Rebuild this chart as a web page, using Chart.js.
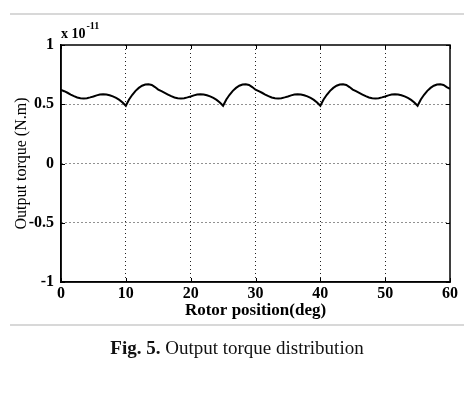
<!DOCTYPE html>
<html>
<head>
<meta charset="utf-8">
<script src="https://cdn.jsdelivr.net/npm/chart.js@4"></script>
<style>
html,body{margin:0;padding:0;background:#fff;}
canvas{display:block;}
</style>
</head>
<body>
<canvas id="c" width="474" height="398"></canvas>
<script>
// Rotor position (deg)
const rotorPosition = [
  0,0.5,1,1.5,2,2.5,3,3.5,4,4.5,5,5.5,6,6.5,7,7.5,8,8.5,9,9.5,
  10,10.5,11,11.5,12,12.5,13,13.5,14,14.5,15,15.5,16,16.5,17,17.5,18,18.5,19,19.5,
  20,20.5,21,21.5,22,22.5,23,23.5,24,24.5,25,25.5,26,26.5,27,27.5,28,28.5,29,29.5,
  30,30.5,31,31.5,32,32.5,33,33.5,34,34.5,35,35.5,36,36.5,37,37.5,38,38.5,39,39.5,
  40,40.5,41,41.5,42,42.5,43,43.5,44,44.5,45,45.5,46,46.5,47,47.5,48,48.5,49,49.5,
  50,50.5,51,51.5,52,52.5,53,53.5,54,54.5,55,55.5,56,56.5,57,57.5,58,58.5,59,59.5,60
];
// Output torque (x 1e-11 N.m)
const outputTorque = [
  0.622,0.610,0.597,0.582,0.568,0.557,0.550,0.548,0.551,0.558,0.566,0.575,0.582,0.585,0.583,0.576,0.566,0.553,0.537,0.515,
  0.487,0.540,0.580,0.613,0.638,0.656,0.667,0.669,0.663,0.645,0.624,0.610,0.596,0.582,0.568,0.557,0.550,0.548,0.551,0.558,
  0.566,0.575,0.582,0.585,0.583,0.576,0.566,0.553,0.537,0.515,0.487,0.540,0.580,0.613,0.638,0.656,0.667,0.669,0.663,0.645,
  0.623,0.610,0.597,0.582,0.568,0.557,0.550,0.548,0.551,0.558,0.566,0.575,0.582,0.585,0.583,0.576,0.566,0.553,0.537,0.515,
  0.487,0.540,0.580,0.613,0.638,0.656,0.667,0.669,0.663,0.645,0.624,0.610,0.596,0.582,0.568,0.557,0.550,0.548,0.551,0.558,
  0.566,0.575,0.582,0.585,0.583,0.576,0.566,0.553,0.537,0.515,0.487,0.540,0.580,0.613,0.638,0.656,0.667,0.669,0.663,0.645,0.630
];
const xTicks = [0,10,20,30,40,50,60];
const yTicks = [-1,-0.5,0,0.5,1];
const yTickLabels = ['-1','-0.5','0','0.5','1'];
const xTitle = 'Rotor position(deg)';
const yTitle = 'Output torque (N.m)';
const exponentBase = 'x 10';
const exponentPower = '-11';
const captionBold = 'Fig. 5.';
const captionText = ' Output torque distribution';

const serif = '"Liberation Serif", "Times New Roman", serif';

const points = rotorPosition.map((x, i) => ({x: x, y: outputTorque[i]}));

const decor = {
  id: 'decor',
  afterDraw(chart) {
    const ctx = chart.ctx;
    const a = chart.chartArea;
    const xs = chart.scales.x, ys = chart.scales.y;
    ctx.save();
    // box
    ctx.strokeStyle = '#000';
    ctx.lineWidth = 1.5;
    ctx.strokeRect(a.left, a.top, a.right - a.left, a.bottom - a.top);
    // inward ticks on all sides
    ctx.lineWidth = 1;
    const tl = 4;
    xTicks.forEach(v => {
      const px = Math.round(xs.getPixelForValue(v)) + 0.5;
      ctx.beginPath();
      ctx.moveTo(px, a.bottom); ctx.lineTo(px, a.bottom - tl);
      ctx.moveTo(px, a.top); ctx.lineTo(px, a.top + tl);
      ctx.stroke();
    });
    yTicks.forEach(v => {
      const py = Math.round(ys.getPixelForValue(v)) + 0.5;
      ctx.beginPath();
      ctx.moveTo(a.left, py); ctx.lineTo(a.left + tl, py);
      ctx.moveTo(a.right, py); ctx.lineTo(a.right - tl, py);
      ctx.stroke();
    });
    // exponent label
    ctx.fillStyle = '#000';
    ctx.textBaseline = 'alphabetic';
    ctx.textAlign = 'left';
    ctx.font = 'bold 14px ' + serif;
    ctx.fillText(exponentBase, a.left, a.top - 7);
    const w = ctx.measureText(exponentBase).width;
    ctx.font = 'bold 10px ' + serif;
    ctx.fillText(exponentPower, a.left + w + 1, a.top - 16);
    // separator lines
    ctx.strokeStyle = '#d8d8d8';
    ctx.lineWidth = 2;
    ctx.beginPath();
    ctx.moveTo(10, 14); ctx.lineTo(464, 14);
    ctx.moveTo(10, 325); ctx.lineTo(464, 325);
    ctx.stroke();
    // caption
    ctx.fillStyle = '#111';
    ctx.font = 'bold 19px ' + serif;
    const wb = ctx.measureText(captionBold).width;
    ctx.font = '19px ' + serif;
    const wt = ctx.measureText(captionText).width;
    const x0 = 237 - (wb + wt) / 2;
    ctx.textBaseline = 'middle';
    ctx.font = 'bold 19px ' + serif;
    ctx.fillText(captionBold, x0, 349);
    ctx.font = '19px ' + serif;
    ctx.fillText(captionText, x0 + wb, 349);
    ctx.restore();
  }
};

new Chart(document.getElementById('c'), {
  type: 'line',
  data: {
    datasets: [{
      data: points,
      borderColor: '#000',
      borderWidth: 2,
      pointRadius: 0,
      tension: 0,
      fill: false
    }]
  },
  options: {
    responsive: false,
    animation: false,
    devicePixelRatio: 1,
    layout: {padding: {left: 12, right: 24, top: 45, bottom: 77}},
    plugins: {legend: {display: false}, tooltip: {enabled: false}},
    scales: {
      x: {
        type: 'linear',
        min: 0, max: 60,
        afterBuildTicks: s => { s.ticks = xTicks.map(v => ({value: v})); },
        afterFit: s => { s.height = 39; },
        ticks: {color: '#000', font: {family: serif, size: 16, weight: 'bold'}, padding: 2, maxRotation: 0},
        grid: {
          color: c => (c.tick && (c.tick.value === 0 || c.tick.value === 60)) ? 'rgba(0,0,0,0)' : '#222',
          lineWidth: 1,
          drawTicks: false
        },
        border: {display: true, color: '#000', width: 1.5, dash: [1, 3]},
        title: {display: true, text: xTitle, color: '#000', font: {family: serif, size: 17, weight: 'bold'}, padding: {top: 0, bottom: 0}}
      },
      y: {
        min: -1, max: 1,
        afterBuildTicks: s => { s.ticks = yTicks.map(v => ({value: v})); },
        afterFit: s => { s.width = 49; },
        ticks: {
          color: '#000', font: {family: serif, size: 16, weight: 'bold'}, padding: 7,
          callback: (v) => { const i = yTicks.indexOf(v); return i >= 0 ? yTickLabels[i] : ''; }
        },
        grid: {
          color: c => (c.tick && (c.tick.value === -1 || c.tick.value === 1)) ? 'rgba(0,0,0,0)' : '#222',
          lineWidth: 1,
          drawTicks: false
        },
        border: {display: true, color: '#000', width: 1.5, dash: [1, 3]},
        title: {display: true, text: yTitle, color: '#000', font: {family: serif, size: 16, weight: 'normal'}, padding: {top: 0, bottom: 0}}
      }
    }
  },
  plugins: [decor]
});
</script>
</body>
</html>
